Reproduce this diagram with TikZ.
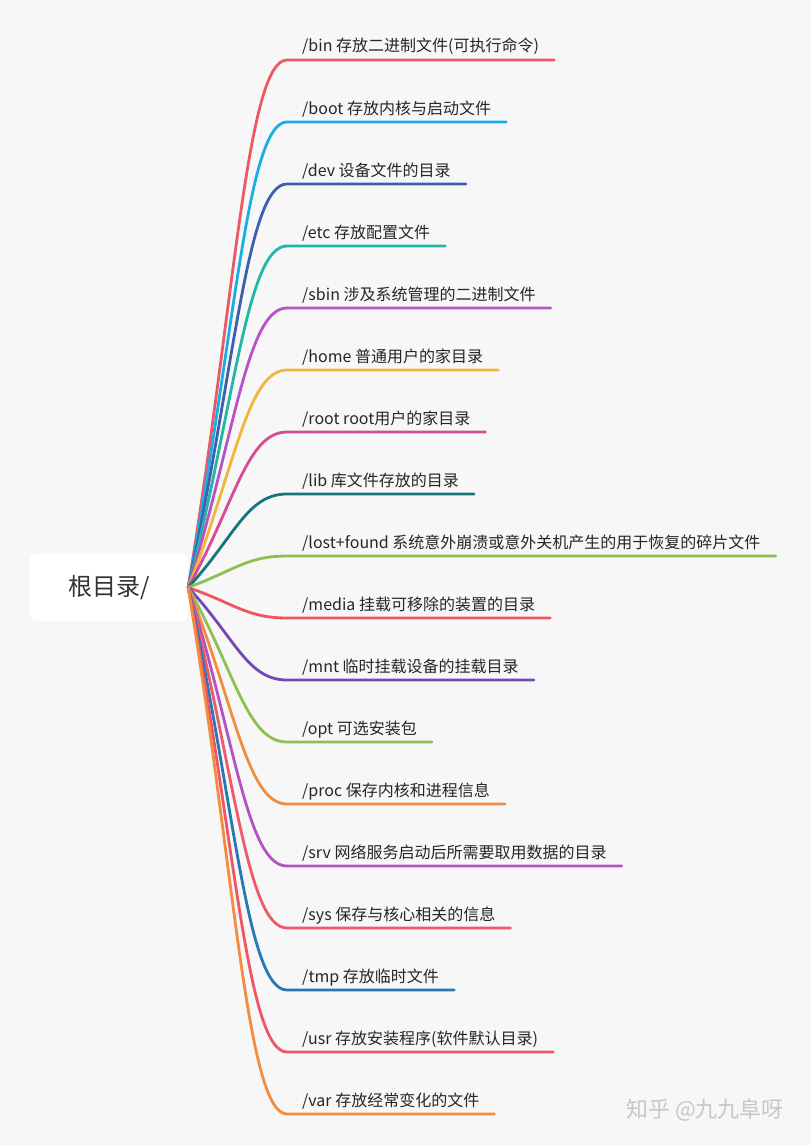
\documentclass[tikz,border=0pt]{standalone}
\usepackage{fontspec}
\setmainfont{Noto Sans CJK SC}
\definecolor{bg}{HTML}{F7F7F7}
\definecolor{cbin}{HTML}{EB5A64}
\definecolor{cboot}{HTML}{1AAEE6}
\definecolor{cdev}{HTML}{3F5FAE}
\definecolor{cetc}{HTML}{22B5A8}
\definecolor{csbin}{HTML}{B852C8}
\definecolor{chome}{HTML}{F2B53A}
\definecolor{croot}{HTML}{D64B93}
\definecolor{clib}{HTML}{16777A}
\definecolor{clost}{HTML}{8CC152}
\definecolor{cmedia}{HTML}{F0555E}
\definecolor{cmnt}{HTML}{7646B8}
\definecolor{copt}{HTML}{8CC152}
\definecolor{cproc}{HTML}{F28C3E}
\definecolor{csrv}{HTML}{B452C4}
\definecolor{csys}{HTML}{EE5A6A}
\definecolor{ctmp}{HTML}{2577B5}
\definecolor{cusr}{HTML}{EE5566}
\definecolor{cvar}{HTML}{F28C3E}

\begin{document}
\begin{tikzpicture}[x = 1pt, y = -1pt,
    rootbox/.style = {fill = white, rounded corners = 6pt, minimum width = 158pt,
        minimum height = 67pt, font = \fontsize{24}{28}\selectfont, text = black!80},
    leaf/.style = {anchor = base west, inner xsep = 15pt, inner ysep = 0pt,
        font = \fontsize{16}{19}\selectfont, text = black!85},
    branch/.style = {line width = 2.8pt, line cap = round}]
    \fill[bg] (0,0) rectangle (811,1145);
    \node[rootbox] (root) at (109,587.5) {根目录/};
    \foreach \txt/\col [count = \i from 0] in {
        bin 存放二进制文件(可执行命令)/cbin,
        boot 存放内核与启动文件/cboot,
        dev 设备文件的目录/cdev,
        etc 存放配置文件/cetc,
        sbin 涉及系统管理的二进制文件/csbin,
        home 普通用户的家目录/chome,
        root root用户的家目录/croot,
        lib 库文件存放的目录/clib,
        lost+found 系统意外崩溃或意外关机产生的用于恢复的碎片文件/clost,
        media 挂载可移除的装置的目录/cmedia,
        mnt 临时挂载设备的挂载目录/cmnt,
        opt 可选安装包/copt,
        proc 保存内核和进程信息/cproc,
        srv 网络服务启动后所需要取用数据的目录/csrv,
        sys 保存与核心相关的信息/csys,
        tmp 存放临时文件/ctmp,
        usr 存放安装程序(软件默认目录)/cusr,
        var 存放经常变化的文件/cvar}{
        \pgfmathsetmacro\ly{60 + 62*\i}
        \coordinate (s\i) at (287,\ly);
        \node[leaf] (t\i) at ([yshift = 8pt]s\i) {/\txt};
        \draw[branch, color = \col] (root.east) .. controls +(47,{0.545*(\ly-588)}) and +(-40,0) .. (s\i)
            -- (s\i -| t\i.east);
    }
    % watermark
    \node[font = \fontsize{22}{26}\selectfont, text = black!22] (zhihu) at (705,1110) {知乎 @九九阜呀};
\end{tikzpicture}
\end{document}
